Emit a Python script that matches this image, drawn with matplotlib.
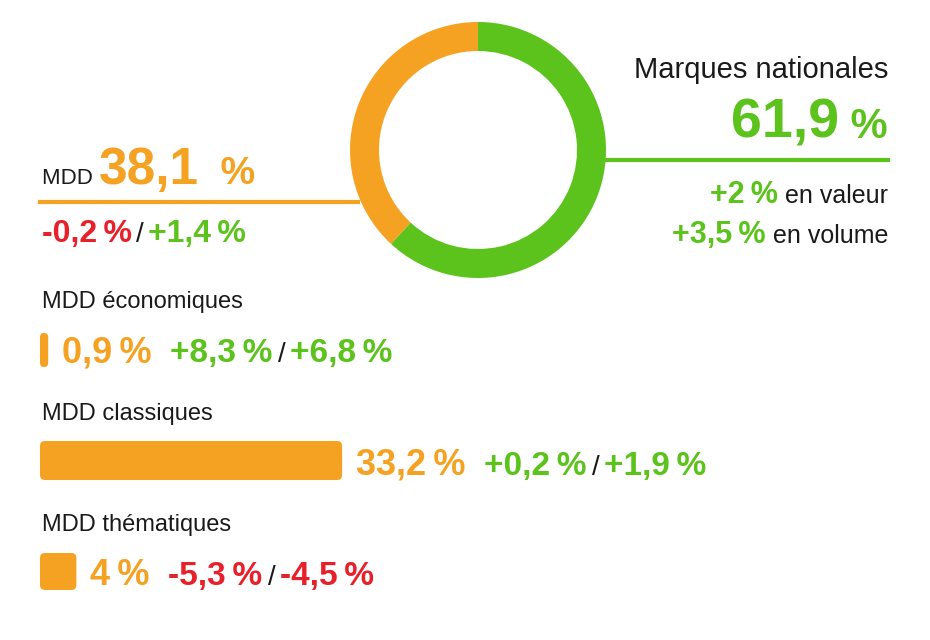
import matplotlib.pyplot as plt
from matplotlib.patches import FancyBboxPatch

plt.rcParams['font.family'] = ['Liberation Sans Narrow', 'Liberation Sans', 'DejaVu Sans']

ORANGE = '#F5A122'
GREEN = '#5CC21C'
RED = '#E8202A'
BLACK = '#1a1a1a'

# donut shares
shares = [61.9, 38.1]
share_colors = [GREEN, ORANGE]

# MDD segments
segments = ['MDD économiques', 'MDD classiques', 'MDD thématiques']
seg_share = [0.9, 33.2, 4]
seg_share_lbl = ['0,9\u2009%', '33,2\u2009%', '4\u2009%']
seg_val = ['+8,3\u2009%', '+0,2\u2009%', '-5,3\u2009%']
seg_vol = ['+6,8\u2009%', '+1,9\u2009%', '-4,5\u2009%']

W, H = 930, 640
fig = plt.figure(figsize=(9.3, 6.4), dpi=100)
ax = fig.add_axes([0, 0, 1, 1])

def Y(py):
    return H - py

# donut
ax.pie(shares, colors=share_colors, startangle=90, counterclock=False,
       center=(478, Y(150)), radius=128, wedgeprops=dict(width=29, linewidth=0),
       frame=True)
ax.set_xlim(0, W)
ax.set_ylim(0, H)
ax.set_aspect('equal')
ax.axis('off')

fig.canvas.draw()
r = fig.canvas.get_renderer()

def pieces(x, py, parts, align='left', gap=0):
    # parts: list of (text, color, size, weight)
    objs = []
    for t, c, s, w in parts:
        objs.append(ax.text(0, Y(py), t, color=c, fontsize=s, fontweight=w, va='baseline', ha='left'))
    widths = [o.get_window_extent(r).width for o in objs]
    total = sum(widths) + gap * (len(objs) - 1)
    cx = x - total if align == 'right' else x
    for o, wd in zip(objs, widths):
        o.set_x(cx)
        cx += wd + gap

# Marques nationales
pieces(888, 78, [('Marques nationales', BLACK, 21, 'normal')], align='right')
pieces(888, 138, [('61,9', GREEN, 40, 'bold'), (' %', GREEN, 30, 'bold')], align='right')
ax.plot([598, 888], [Y(160), Y(160)], color=GREEN, lw=3)
pieces(888, 203, [('+2\u2009%', GREEN, 22, 'bold'), (' en valeur', BLACK, 18, 'normal')], align='right')
pieces(888, 243, [('+3,5\u2009%', GREEN, 22, 'bold'), (' en volume', BLACK, 18, 'normal')], align='right')

# MDD
pieces(42, 184, [('MDD ', BLACK, 16, 'normal'), ('38,1', ORANGE, 37, 'bold'), ('  %', ORANGE, 28, 'bold')])
ax.plot([40, 358], [Y(202), Y(202)], color=ORANGE, lw=3)
pieces(42, 242, [('-0,2\u2009%', RED, 23, 'bold'), ('/', BLACK, 20, 'normal'),
                 ('+1,4\u2009%', GREEN, 23, 'bold')], gap=4)

# segments
title_y = [308, 420, 531]
bar_top = [333, 441, 553]
bar_h = [34, 39, 37]
scale = 9.1
for i in range(3):
    pieces(42, title_y[i], [(segments[i], BLACK, 17, 'normal')])
    wbar = seg_share[i] * scale
    ax.add_patch(FancyBboxPatch((40, Y(bar_top[i] + bar_h[i])), wbar, bar_h[i],
                                boxstyle='round,pad=0,rounding_size=%f' % min(5, wbar / 2),
                                fc=ORANGE, ec='none'))
    base = bar_top[i] + bar_h[i] - 5
    x0 = 40 + wbar + 14
    vc = RED if seg_val[i].startswith('-') else GREEN
    oc = RED if seg_vol[i].startswith('-') else GREEN
    pieces(x0, base, [(seg_share_lbl[i], ORANGE, 26, 'bold'), (' ', BLACK, 22, 'normal'),
                      (seg_val[i], vc, 24, 'bold'), ('/', BLACK, 20, 'normal'),
                      (seg_vol[i], oc, 24, 'bold')], gap=5)

fig.savefig('out.png', dpi=100, facecolor='white')
